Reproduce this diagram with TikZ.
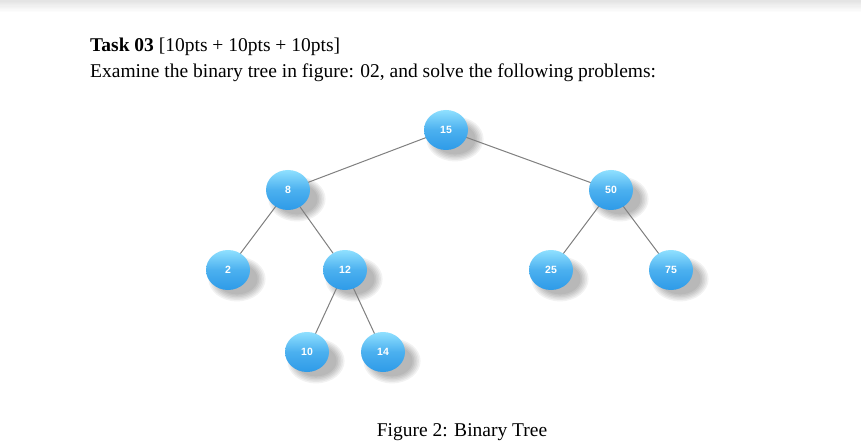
\documentclass[tikz,border=0pt]{standalone}
\usepackage{fontspec}
\setmainfont{Liberation Serif}
\newfontfamily\nodefont{Liberation Sans}
\usetikzlibrary{shapes.geometric}
\definecolor{ballA}{HTML}{8FE0FF}
\definecolor{ballB}{HTML}{2E9BE8}
\tikzset{
 tnode/.style={ellipse,minimum width=44pt,minimum height=40pt,inner sep=0pt,
   top color=ballA,bottom color=ballB,middle color=ballB!70!ballA,
   text=white,font=\nodefont\bfseries\fontsize{10.5}{12}\selectfont},
 edge/.style={draw=gray,line width=1pt},
 txt/.style={anchor=west,inner sep=0pt,font=\fontsize{19.5}{23}\selectfont}
}
\begin{document}
\begin{tikzpicture}[x=1pt,y=-1pt]
\useasboundingbox (0,0) rectangle (861,446);
\fill[white] (0,0) rectangle (861,446);
\foreach \i in {0,...,8}{\fill[black,opacity=0.012] (0,0) rectangle (861,{12-\i*1.3});}
\node[txt] (t1) at (90,47) {\textbf{Task 03} [10pts + 10pts + 10pts]};
\node[txt] (t2) at (90,73) {Examine the binary tree in figure: 02, and solve the following problems:};
\foreach \n/\p in {15/{446,130},8/{288,190},50/{611,190},2/{228,270},12/{345,270},25/{551,270},75/{671,270},10/{307,352},14/{383,352}}{
 \foreach \k in {1,...,6}{\fill[black,opacity=0.05] ({\p}) ++(9,9) ellipse ({19+\k*1.6} and {14+\k*1.4});}
}
\foreach \n/\p in {15/{446,130},8/{288,190},50/{611,190},2/{228,270},12/{345,270},25/{551,270},75/{671,270},10/{307,352},14/{383,352}}{
 \coordinate (c\n) at (\p);
}
\foreach \a/\b in {15/8,15/50,8/2,8/12,50/25,50/75,12/10,12/14}{\draw[edge] (c\a) -- (c\b);}
\foreach \n in {15,8,50,2,12,25,75,10,14}{
 \node[tnode] (n\n) at (c\n) {\n};
}
\node[anchor=center,inner sep=0pt,font=\fontsize{19.5}{23}\selectfont] (cap) at (462,432) {Figure 2: Binary Tree};
\end{tikzpicture}
\end{document}
